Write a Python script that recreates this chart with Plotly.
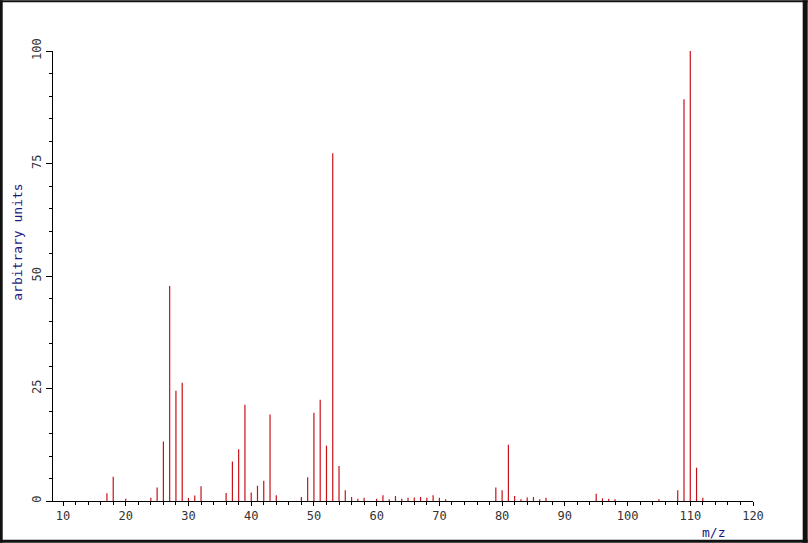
import plotly.graph_objects as go

mz = [17, 18, 20, 24, 25, 26, 27, 28, 29, 30, 31, 32, 36, 37, 38, 39, 40, 41, 42, 43, 44,
      48, 49, 50, 51, 52, 53, 54, 55, 56, 57, 58, 60, 61, 62, 63, 64, 65, 66, 67, 68, 69,
      70, 71, 79, 80, 81, 82, 83, 84, 85, 86, 87, 95, 96, 97, 98, 105, 108, 109, 110, 111, 112]
intensity = [1.7, 5.4, 0.5, 0.7, 3.0, 13.2, 47.8, 24.5, 26.3, 0.7, 1.2, 3.3, 1.8, 8.8, 11.5, 21.4,
             1.9, 3.4, 4.5, 19.2, 1.3, 0.9, 5.3, 19.6, 22.5, 12.3, 77.3, 7.8, 2.4, 0.9, 0.5, 0.7,
             0.5, 1.3, 0.4, 1.1, 0.5, 0.7, 0.8, 0.9, 0.7, 1.3, 0.7, 0.4, 3.0, 2.4, 12.5, 1.1, 0.4,
             0.8, 0.9, 0.4, 0.7, 1.6, 0.6, 0.5, 0.4, 0.4, 2.4, 89.3, 100.0, 7.4, 0.7]

x_ticks = [10, 20, 30, 40, 50, 60, 70, 80, 90, 100, 110, 120]
y_ticks = [0, 25, 50, 75, 100]

xs, ys = [], []
for m, v in zip(mz, intensity):
    xs += [m, m, None]
    ys += [0, v, None]

fig = go.Figure()
fig.add_trace(go.Scatter(x=xs, y=ys, mode="lines",
                         line=dict(color="#c81018", width=1.2),
                         hoverinfo="skip", showlegend=False))

W, H = 808, 543
L, R, T, B = 53.3, 54.7, 50.7, 41.7
pw, ph = W - L - R, H - T - B

def px_x(p):
    return (p - L) / pw

def px_y(p):
    return 1 - (p - T) / ph

mono = "DejaVu Sans Mono"

fig.update_layout(
    width=W, height=H,
    margin=dict(l=L, r=R, t=T, b=B, pad=0),
    paper_bgcolor="white", plot_bgcolor="white",
    xaxis=dict(range=[8.4, 120], tickvals=x_ticks, ticktext=[str(t) for t in x_ticks],
               ticks="outside", ticklen=4, tickwidth=1, tickcolor="black",
               minor=dict(dtick=2, tick0=10, ticks="outside", ticklen=3, tickcolor="black", showgrid=False),
               showline=True, linecolor="black", linewidth=1, showgrid=False, zeroline=False,
               tickfont=dict(family=mono, size=12, color="#333333")),
    yaxis=dict(range=[0, 100], tickvals=y_ticks, ticktext=[str(t) for t in y_ticks],
               ticks="outside", ticklen=6, tickwidth=1, tickcolor="black", tickangle=-90,
               minor=dict(dtick=5, tick0=0, ticks="outside", ticklen=3, tickcolor="black", showgrid=False),
               showline=True, linecolor="black", linewidth=1, showgrid=False, zeroline=False,
               tickfont=dict(family=mono, size=12, color="#333333")),
    annotations=[
        dict(text="m/z", xref="paper", yref="paper", x=px_x(714), y=px_y(533),
             showarrow=False, font=dict(family=mono, size=13, color="#1a1a80"),
             xanchor="center", yanchor="middle"),
        dict(text="arbitrary units", xref="paper", yref="paper", x=px_x(17), y=px_y(242),
             showarrow=False, textangle=-90, font=dict(family=mono, size=13, color="#1a1a80"),
             xanchor="center", yanchor="middle"),
    ],
    shapes=[
        dict(type="rect", xref="paper", yref="paper", x0=px_x(0), x1=px_x(3), y0=px_y(H), y1=px_y(0),
             fillcolor="#111111", line=dict(width=0), layer="above"),
        dict(type="rect", xref="paper", yref="paper", x0=px_x(W - 5), x1=px_x(W), y0=px_y(H), y1=px_y(0),
             fillcolor="#111111", line=dict(width=0), layer="above"),
        dict(type="rect", xref="paper", yref="paper", x0=px_x(0), x1=px_x(W), y0=px_y(2), y1=px_y(0),
             fillcolor="#111111", line=dict(width=0), layer="above"),
        dict(type="rect", xref="paper", yref="paper", x0=px_x(0), x1=px_x(W), y0=px_y(H), y1=px_y(H - 3),
             fillcolor="#111111", line=dict(width=0), layer="above"),
    ],
)

fig.write_html("out.html", config={"displayModeBar": False},
               post_script="document.body.style.margin='0';document.body.style.overflow='hidden';")
